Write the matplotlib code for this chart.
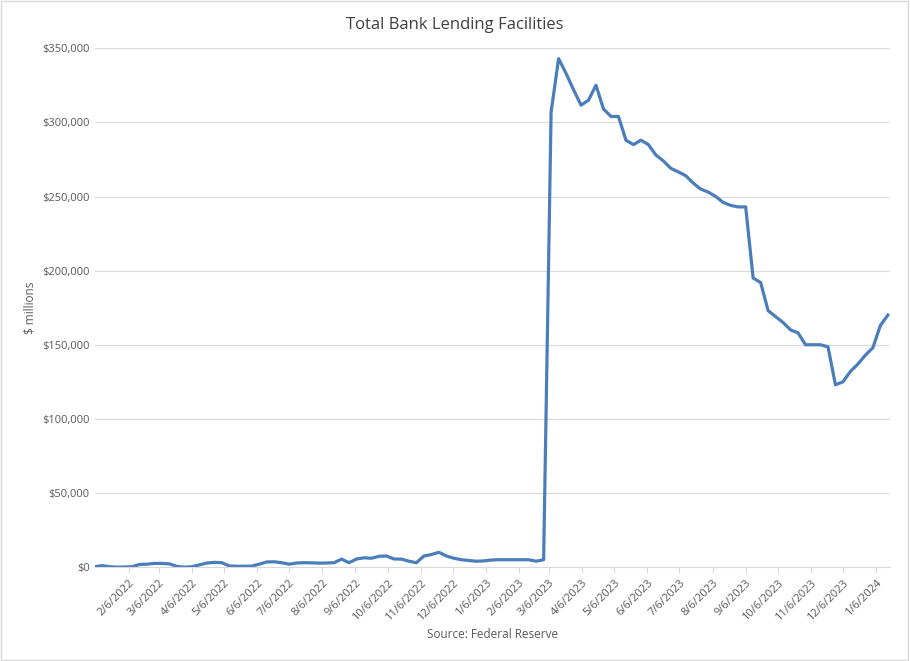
import matplotlib
matplotlib.use("Agg")
import matplotlib.pyplot as plt
import matplotlib.dates as mdates
from matplotlib.ticker import FuncFormatter
import pandas as pd

pre_crash = [300, 1000, 300, 0, 100, 300, 1800, 2000, 2500, 2500, 2200, 500, 0, 300, 1500,
             2800, 3200, 3000, 800, 600, 600, 700, 2000, 3500, 3600, 3000, 2000, 2800, 3000,
             2900, 2700, 2800, 3000, 5400, 3000, 5500, 6300, 6000, 7300, 7500, 5500, 5400,
             4000, 3000, 7500, 8500, 10000, 7500, 6000, 5000, 4500, 4000, 4200, 4800, 5000,
             5000, 5000, 5000, 5000, 4000, 5000]
post_crash = [307000, 343000, 333000, 322000, 311600, 315000, 325000, 309000, 304000, 304000,
              288000, 285000, 288000, 285000, 278000, 274000, 269000, 266600, 264000, 259000,
              255000, 253000, 250000, 246000, 244000, 243000, 243000, 195000, 192000, 173000,
              169000, 165000, 160000, 158000, 150000, 150000, 150000, 148600, 123000, 125000,
              132000, 137000, 143000, 148000, 163000, 170000]
values = pre_crash + post_crash
dates = pd.date_range("2022-01-05", periods=len(values), freq="7D")
tick_dates = pd.date_range("2022-01-06", "2024-01-06", freq="MS") + pd.Timedelta(days=5)
tick_labels = [f"{d.month}/{d.day}/{d.year}" for d in tick_dates]

plt.rcParams['font.family'] = ['Open Sans', 'DejaVu Sans']
fig = plt.figure(figsize=(9.10, 6.61), dpi=100)
fig.patches.append(plt.Rectangle((0.001, 0.001), 0.997, 0.997, transform=fig.transFigure,
                                 fill=False, edgecolor="#d9d9d9", lw=1))
ax = fig.add_axes([0.104, 0.142, 0.874, 0.785])
ax.plot(dates, values, color="#4a7ebb", lw=2.3)
ax.set_ylim(0, 350000)
ax.set_yticks(range(0, 350001, 50000))
ax.yaxis.set_major_formatter(FuncFormatter(lambda v, p: f"${v:,.0f}"))
ax.set_xlim(dates[0], dates[-1] + pd.Timedelta(days=2))
ax.set_xticks(tick_dates)
ax.set_xticklabels(tick_labels, rotation=45, ha="right", rotation_mode="anchor")
ax.grid(axis="y", color="#d9d9d9", lw=0.8)
ax.set_axisbelow(True)
for s in ["top", "right", "left"]:
    ax.spines[s].set_visible(False)
ax.spines["bottom"].set_color("#d9d9d9")
ax.tick_params(axis="y", length=0, labelsize=8, colors="#595959")
ax.tick_params(axis="x", length=4, color="#d9d9d9", labelsize=8, colors="#595959")
ax.set_ylabel("$ millions", fontsize=8.5, color="#595959")
ax.set_xlabel("Source: Federal Reserve", fontsize=8.5, color="#595959", labelpad=4)
fig.suptitle("Total Bank Lending Facilities", y=0.975, fontsize=12, color="#404040")
fig.savefig("out.png", dpi=100)
